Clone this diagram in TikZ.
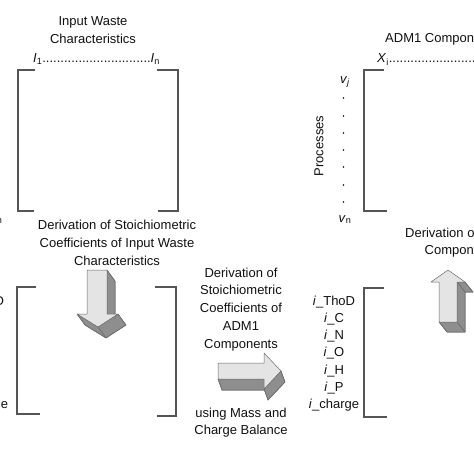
\documentclass[tikz,border=0pt]{standalone}
\usepackage{fontspec}
\setmainfont{Liberation Sans}
\definecolor{brkcol}{HTML}{555555}
\definecolor{frontcol}{HTML}{E4E4E4}
\definecolor{sidecol}{HTML}{8E8E8E}
\definecolor{edgecol}{HTML}{6A6A6A}
\definecolor{txtcol}{HTML}{111111}
\begin{document}
\begin{tikzpicture}[x=1pt,y=-1pt,
  txt/.style={font=\fontsize{13}{17.5}\selectfont, text=txtcol, inner sep=0pt, align=center},
  brk/.style={draw=brkcol, line width=1.6pt},
  front/.style={fill=frontcol, draw=edgecol, line width=0.5pt, line join=round},
  side/.style={fill=sidecol, draw=edgecol, line width=0.5pt, line join=round},
  vdot/.style={fill=txtcol}]
\useasboundingbox (0,0) rectangle (474,474);
\fill[white] (0,0) rectangle (474,474);

% brackets
\draw[brk] (35,70) -- (18,70) -- (18,211) -- (34,211);
\draw[brk] (157,70) -- (178,70) -- (178,211) -- (158,211);
\draw[brk] (36,287) -- (17,287) -- (17,414) -- (40,414);
\draw[brk] (155,287) -- (176,287) -- (176,416) -- (157,416);
\draw[brk] (384,70) -- (364,70) -- (364,211) -- (387,211);
\draw[brk] (384,288) -- (364,288) -- (364,417) -- (387,417);

% texts top-left
\node[txt, anchor=north] (inw) at (93,16.4) {Input Waste\\Characteristics};
\node[txt, anchor=base west] (irow) at (33,62.6)
  {\textit{I}\textsubscript{1}..............................\textit{I}\textsubscript{n}};
\node[txt, anchor=base] (vjl) at (-5,83) {\textit{v}\textsubscript{\textit{j}}};
\node[txt, anchor=base] (vnl) at (-4,222) {\textit{v}\textsubscript{n}};

% derivation texts
\node[txt, anchor=north, font=\fontsize{13}{18}\selectfont] (der1) at (117,219.4)
  {Derivation of Stoichiometric\\Coefficients of Input Waste\\Characteristics};
\node[txt, anchor=north, font=\fontsize{13}{17.8}\selectfont] (der2) at (241,267.4)
  {Derivation of\\Stoichiometric\\Coefficients of\\ADM1\\Components};
\node[txt, anchor=north, font=\fontsize{13}{17}\selectfont] (mass) at (241,407.4)
  {using Mass and\\Charge Balance};
\node[txt, anchor=north, font=\fontsize{13}{17.3}\selectfont] (list) at (334,295.4)
  {\textit{i}\_ThoD\\\textit{i}\_C\\\textit{i}\_N\\\textit{i}\_O\\\textit{i}\_H\\\textit{i}\_P\\\textit{i}\_charge};
\node[txt, anchor=north, font=\fontsize{13}{17.3}\selectfont] (listl) at (-17,295.4)
  {\textit{i}\_ThoD\\\textit{i}\_C\\\textit{i}\_N\\\textit{i}\_O\\\textit{i}\_H\\\textit{i}\_P\\\textit{i}\_charge};

% top-right
\node[txt, anchor=base west] (adm) at (385,42.6) {ADM1 Components};
\node[txt, anchor=base west] (xrow) at (377,62.6)
  {\textit{X}\textsubscript{i}..............................};
\node[txt, anchor=north] (der3) at (461.5,227.4) {Derivation of ADM1\\Components};
\node[txt, rotate=90] (proc) at (319,146) {Processes};
\node[txt, anchor=base] (vj) at (345,83) {\textit{v}\textsubscript{\textit{j}}};
\node[txt, anchor=base] (vn) at (345,222) {\textit{v}\textsubscript{n}};
\foreach \yy in {98,116,133,150,167,185,202}
  \fill[vdot] (343.5,\yy) circle (0.9);

% down arrow, depth (8,11)
\fill[side] (107,270) -- (115,281) -- (115,325) -- (107,314) -- cycle;
\fill[side] (118,314) -- (98,327) -- (106,338) -- (126,325) -- cycle;
\fill[side] (98,327) -- (77,314) -- (85,325) -- (106,338) -- cycle;
\draw[edgecol, line width=0.5pt] (107,270) -- (115,281) -- (115,319);
\draw[edgecol, line width=0.5pt] (118,314) -- (126,325) -- (106,338) -- (85,325) -- (77,314);
\filldraw[front] (87,270) -- (107,270) -- (107,314) -- (118,314) -- (98,327)
  -- (77,314) -- (87,314) -- cycle;

% right arrow, depth (4,11)
\fill[side] (218,379) -- (264,379) -- (268,390) -- (222,390) -- cycle;
\fill[side] (281,371) -- (264,389) -- (268,400) -- (285,382) -- cycle;
\draw[edgecol, line width=0.5pt] (218,379) -- (222,390) -- (264,390);
\draw[edgecol, line width=0.5pt] (281,371) -- (285,382) -- (268,400) -- (264,389);
\filldraw[front] (218,363) -- (264,363) -- (264,353) -- (281,371) -- (264,389)
  -- (264,379) -- (218,379) -- cycle;

% up arrow, depth (8,10)
\fill[side] (465,282) -- (457,282) -- (465,292) -- (473,292) -- cycle;
\fill[side] (457,282) -- (457,322) -- (465,332) -- (465,292) -- cycle;
\fill[side] (457,322) -- (439,322) -- (447,332) -- (465,332) -- cycle;
\draw[edgecol, line width=0.5pt] (465,282) -- (473,292) -- (465,292) -- (465,332) -- (447,332) -- (439,322);
\filldraw[front] (448,270) -- (465,282) -- (457,282) -- (457,322) -- (439,322)
  -- (439,282) -- (431,282) -- cycle;
\end{tikzpicture}
\end{document}
